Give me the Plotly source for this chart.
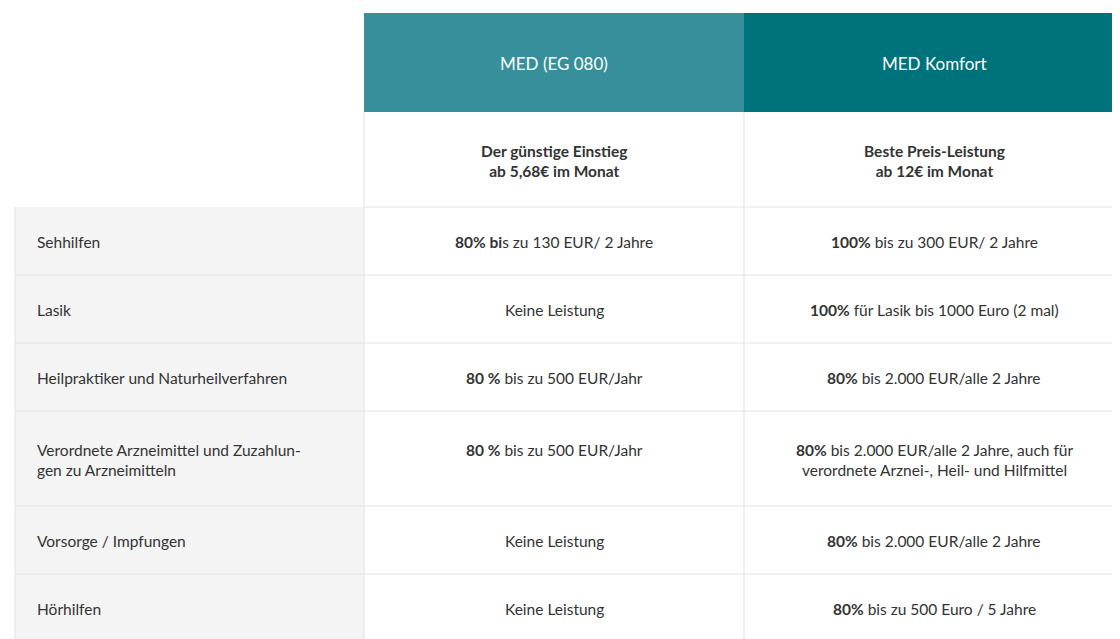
import plotly.graph_objects as go

# table content
plans = ["MED (EG 080)", "MED Komfort"]
plan_colors = ["#368F9B", "#00727C"]
subtitles = ["<b>Der günstige Einstieg<br>ab 5,68€ im Monat</b>",
             "<b>Beste Preis-Leistung<br>ab 12€ im Monat</b>"]
features = ["Sehhilfen", "Lasik", "Heilpraktiker und Naturheilverfahren",
            "Verordnete Arzneimittel und Zuzahlun-<br>gen zu Arzneimitteln",
            "Vorsorge / Impfungen", "Hörhilfen"]
med_values = ["<b>80% bi</b>s zu 130 EUR/ 2 Jahre", "Keine Leistung",
              "<b>80 %</b> bis zu 500 EUR/Jahr", "<b>80 %</b> bis zu 500 EUR/Jahr<br> ",
              "Keine Leistung", "Keine Leistung"]
komfort_values = ["<b>100%</b> bis zu 300 EUR/ 2 Jahre",
                  "<b>100%</b> für Lasik bis 1000 Euro (2 mal)",
                  "<b>80%</b> bis 2.000 EUR/alle 2 Jahre",
                  "<b>80%</b> bis 2.000 EUR/alle 2 Jahre, auch für<br>verordnete Arznei-, Heil- und Hilfmittel",
                  "<b>80%</b> bis 2.000 EUR/alle 2 Jahre",
                  "<b>80%</b> bis zu 500 Euro / 5 Jahre"]

# layout grid (pixels)
col_edges = [7, 356, 736, 1116]
header_top, header_bottom, sub_bottom = 5, 104, 199
row_edges = [199, 267, 335, 403, 498, 566, 634]

border = "#E3E3E3"
text_color = "#333333"
font = "Lato"

fig = go.Figure()
shapes = []
annotations = []

# coloured header cells
for i, (name, color) in enumerate(zip(plans, plan_colors)):
    x0, x1 = col_edges[i + 1], col_edges[i + 2]
    shapes.append(dict(type="rect", x0=x0, x1=x1, y0=header_top, y1=header_bottom,
                       fillcolor=color, line_width=0, layer="below"))
    annotations.append(dict(x=(x0 + x1) / 2, y=(header_top + header_bottom) / 2 + 1, text=name,
                            showarrow=False, font=dict(color="white", size=17, family=font)))
    annotations.append(dict(x=(x0 + x1) / 2, y=(header_bottom + sub_bottom) / 2 + 1,
                            text=subtitles[i], showarrow=False,
                            font=dict(color=text_color, size=15.5, family=font)))

# label column background
shapes.append(dict(type="rect", x0=col_edges[0], x1=col_edges[1], y0=row_edges[0], y1=row_edges[-1],
                   fillcolor="#F4F4F4", line_width=0, layer="below"))

# grid lines
for y in row_edges:
    shapes.append(dict(type="line", x0=col_edges[0] if y != row_edges[0] else col_edges[1],
                       x1=col_edges[-1], y0=y, y1=y, line=dict(color=border, width=1)))
for x in col_edges[1:]:
    shapes.append(dict(type="line", x0=x, x1=x, y0=header_bottom, y1=row_edges[-1],
                       line=dict(color=border, width=1)))
shapes.append(dict(type="line", x0=col_edges[0], x1=col_edges[0], y0=row_edges[0], y1=row_edges[-1],
                   line=dict(color=border, width=1)))

# body text
for r, feat in enumerate(features):
    yc = (row_edges[r] + row_edges[r + 1]) / 2 + 1
    annotations.append(dict(x=col_edges[0] + 20, y=yc, text=feat, xanchor="left", align="left",
                            showarrow=False, font=dict(color=text_color, size=15.5, family=font)))
    for c, vals in enumerate([med_values, komfort_values]):
        x0, x1 = col_edges[c + 1], col_edges[c + 2]
        annotations.append(dict(x=(x0 + x1) / 2, y=yc, text=vals[r], showarrow=False,
                                font=dict(color=text_color, size=15.5, family=font)))

for a in annotations:
    a.update(xref="x", yref="y")
    a.setdefault("yanchor", "middle")

fig.update_layout(
    width=1120, height=639,
    margin=dict(l=0, r=0, t=0, b=0),
    paper_bgcolor="white", plot_bgcolor="white",
    xaxis=dict(range=[0, 1120], visible=False, fixedrange=True),
    yaxis=dict(range=[639, 0], visible=False, fixedrange=True),
    shapes=shapes, annotations=annotations, showlegend=False,
)
fig.write_html("out.html")
